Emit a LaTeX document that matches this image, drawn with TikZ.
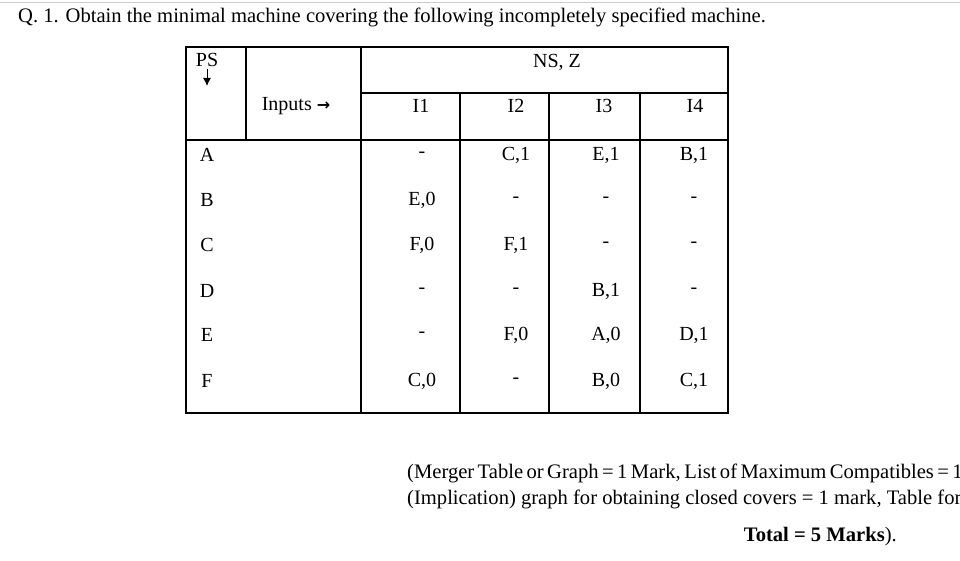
\documentclass[tikz,border=0pt]{standalone}
\usepackage{fontspec}
\setmainfont{Liberation Serif}
\newfontfamily\arrfont{DejaVu Sans}
\usetikzlibrary{arrows.meta}
\begin{document}
\begin{tikzpicture}[x=1pt,y=-1pt,
  txt/.style={inner sep=0pt,font=\fontsize{20.6}{24}\selectfont},
  cell/.style={inner sep=0pt,font=\fontsize{20}{24}\selectfont},
  grid/.style={line width=1.1pt}]
\useasboundingbox (0,0) rectangle (960,561);
\draw[gray!40,line width=1pt] (0,3) -- (960,3);
\node[txt,anchor=west] (q) at (18,17) {Q. 1. Obtain the minimal machine covering the following incompletely specified machine.};
% table
\draw[grid] (186,47) rectangle (728,413);
\draw[grid] (186,140) -- (728,140);
\draw[grid] (361,93) -- (728,93);
\draw[grid] (246,47) -- (246,140);
\draw[grid] (361,47) -- (361,413);
\draw[grid] (460,93) -- (460,413);
\draw[grid] (549,93) -- (549,413);
\draw[grid] (640,93) -- (640,413);
\node[cell] (ps) at (207,60) {PS};
\coordinate (a1) at (207,69);
\coordinate (a2) at (207,86);
\draw[line width=1pt,-{Latex[length=8pt,width=8pt]}] (a1) -- (a2);
\node[cell] (ns) at (557,62) {NS, Z};
\node[cell] (inp) at (296,106) {Inputs {\arrfont\fontsize{16}{20}\selectfont\bfseries →}};
\node[cell] (i1) at (421,106) {I1};
\node[cell] (i2) at (516,106) {I2};
\node[cell] (i3) at (604,106) {I3};
\node[cell] (i4) at (695,106) {I4};
\foreach \n/\y/\a/\b/\c/\d in {A/155/-/{C,1}/{E,1}/{B,1},B/200/{E,0}/-/-/-,C/245/{F,0}/{F,1}/-/-,D/291/-/-/{B,1}/-,E/335/-/{F,0}/{A,0}/{D,1},F/381/{C,0}/-/{B,0}/{C,1}}{
  \node[cell] (r\n) at (207,\y) {\n};
  \node[cell] (r\n1) at (422,\y) {\a};
  \node[cell] (r\n2) at (516,\y) {\b};
  \node[cell] (r\n3) at (606,\y) {\c};
  \node[cell] (r\n4) at (694,\y) {\d};
}
\node[txt,anchor=west] (l1) at (407,473) {\makebox[493pt][s]{(Merger Table or Graph = 1 Mark, List of Maximum Compatibles = 1 Mark, Compatibility}};
\node[txt,anchor=west] (l2) at (407,499) {(Implication) graph for obtaining closed covers = 1 mark, Table for Minimal machine = 2 Marks.};
\node[txt,anchor=east] (tot) at (897,537) {\textbf{Total = 5 Marks}).};
\end{tikzpicture}
\end{document}
